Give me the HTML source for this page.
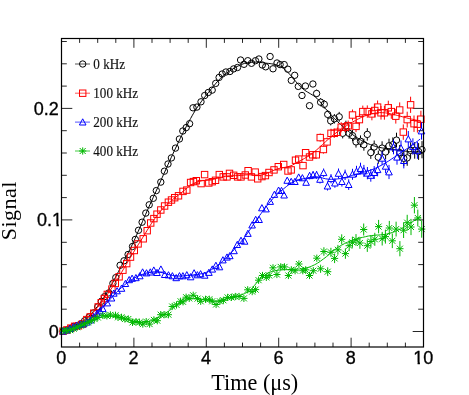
<!DOCTYPE html>
<html><head><meta charset="utf-8"><style>html,body{margin:0;padding:0;background:#fff;width:469px;height:395px;overflow:hidden}svg{display:block}</style></head>
<body><svg width="469" height="395" viewBox="0 0 469 395">
<defs><clipPath id="c10"><rect x="0" y="0" width="469" height="362"/><rect x="417.6" y="361" width="2.3" height="6"/><rect x="423.2" y="361" width="45.8" height="6"/></clipPath><clipPath id="c01"><rect x="0" y="0" width="469" height="223.9"/><rect x="56.5" y="222.9" width="2.3" height="6"/><rect x="0" y="222.9" width="52.1" height="6"/></clipPath></defs>
<rect width="469" height="395" fill="#fff"/>
<path d="M79.6 347.0v-4.4M79.6 38.5v4.4M97.7 347.0v-4.4M97.7 38.5v4.4M115.8 347.0v-4.4M115.8 38.5v4.4M133.9 347.0v-9.3M133.9 38.5v9.3M152 347.0v-4.4M152 38.5v4.4M170.1 347.0v-4.4M170.1 38.5v4.4M188.2 347.0v-4.4M188.2 38.5v4.4M206.3 347.0v-9.3M206.3 38.5v9.3M224.4 347.0v-4.4M224.4 38.5v4.4M242.5 347.0v-4.4M242.5 38.5v4.4M260.6 347.0v-4.4M260.6 38.5v4.4M278.7 347.0v-9.3M278.7 38.5v9.3M296.8 347.0v-4.4M296.8 38.5v4.4M314.9 347.0v-4.4M314.9 38.5v4.4M333 347.0v-4.4M333 38.5v4.4M351.1 347.0v-9.3M351.1 38.5v9.3M369.2 347.0v-4.4M369.2 38.5v4.4M387.3 347.0v-4.4M387.3 38.5v4.4M405.4 347.0v-4.4M405.4 38.5v4.4M61.5 331.5h10.8M423.5 331.5h-10.8M61.5 309.2h5.3M423.5 309.2h-5.3M61.5 286.9h5.3M423.5 286.9h-5.3M61.5 264.6h5.3M423.5 264.6h-5.3M61.5 242.3h5.3M423.5 242.3h-5.3M61.5 219.9h10.8M423.5 219.9h-10.8M61.5 197.6h5.3M423.5 197.6h-5.3M61.5 175.3h5.3M423.5 175.3h-5.3M61.5 153h5.3M423.5 153h-5.3M61.5 130.7h5.3M423.5 130.7h-5.3M61.5 108.4h10.8M423.5 108.4h-10.8M61.5 86.1h5.3M423.5 86.1h-5.3M61.5 63.8h5.3M423.5 63.8h-5.3M61.5 41.5h5.3M423.5 41.5h-5.3" stroke="#000" stroke-width="0.85" fill="none"/>
<g stroke="#000" fill="none" stroke-width="1"><path d="M63.1 331.5 L64.6 330.9 L66.1 330.2 L67.6 329.6 L69.1 328.9 L70.6 328.2 L72.1 327.5 L73.6 326.8 L75.1 326 L76.6 325.2 L78.1 324.4 L79.6 323.5 L81.1 322.5 L82.6 321.4 L84.1 320.3 L85.6 319 L87.1 317.7 L88.6 316.3 L90.1 314.8 L91.6 313.3 L93.1 311.7 L94.6 309.9 L96.1 308.1 L97.6 306.3 L99.1 304.3 L100.6 302.3 L102.1 300.1 L103.6 297.9 L105.1 295.6 L106.6 293.2 L108.1 290.8 L109.6 288.2 L111.1 285.5 L112.6 282.8 L114.1 279.9 L115.6 277.1 L117.1 274.2 L118.6 271.3 L120.1 268.4 L121.6 265.5 L123.1 262.6 L124.6 259.7 L126.1 256.8 L127.6 253.9 L129.1 251 L130.6 248 L132.1 244.9 L133.6 241.7 L135.1 238.5 L136.6 235.1 L138.1 231.7 L139.6 228.2 L141.1 224.8 L142.6 221.3 L144.1 217.8 L145.6 214.4 L147.1 211 L148.6 207.6 L150.1 204.3 L151.6 201 L153.1 197.7 L154.6 194.4 L156.1 191.1 L157.6 187.8 L159.1 184.5 L160.6 181.1 L162.1 177.8 L163.6 174.4 L165.1 171.1 L166.6 167.8 L168.1 164.4 L169.6 161.1 L171.1 157.8 L172.6 154.6 L174.1 151.3 L175.6 148.1 L177.1 145 L178.6 141.8 L180.1 138.7 L181.6 135.7 L183.1 132.7 L184.6 129.8 L186.1 126.9 L187.6 124 L189.1 121.2 L190.6 118.5 L192.1 115.8 L193.6 113.2 L195.1 110.8 L196.6 108.4 L198.1 106.1 L199.6 104 L201.1 101.9 L202.6 99.8 L204.1 97.9 L205.6 96 L207.1 94.1 L208.6 92.3 L210.1 90.4 L211.6 88.6 L213.1 86.7 L214.6 84.9 L216.1 83.1 L217.6 81.4 L219.1 79.8 L220.6 78.2 L222.1 76.8 L223.6 75.5 L225.1 74.2 L226.6 73.1 L228.1 72 L229.6 71 L231.1 70.1 L232.6 69.1 L234.1 68.2 L235.6 67.4 L237.1 66.5 L238.6 65.8 L240.1 65.1 L241.6 64.4 L243.1 63.9 L244.6 63.4 L246.1 63 L247.6 62.7 L249.1 62.5 L250.6 62.3 L252.1 62.2 L253.6 62.1 L255.1 62.1 L256.6 62.2 L258.1 62.3 L259.6 62.4 L261.1 62.6 L262.6 62.7 L264.1 62.9 L265.6 63.1 L267.1 63.3 L268.6 63.4 L270.1 63.6 L271.6 63.8 L273.1 64.1 L274.6 64.4 L276.1 64.8 L277.6 65.3 L279.1 65.9 L280.6 66.7 L282.1 67.6 L283.6 68.6 L285.1 69.8 L286.6 71.1 L288.1 72.6 L289.6 74.2 L291.1 75.9 L292.6 77.7 L294.1 79.5 L295.6 81.3 L297.1 83 L298.6 84.7 L300.1 86.3 L301.6 87.7 L303.1 89 L304.6 90.2 L306.1 91.2 L307.6 92.1 L309.1 93 L310.6 93.9 L312.1 94.8 L313.6 95.7 L315.1 96.8 L316.6 98.1 L318.1 99.6 L319.6 101.2 L321.1 103 L322.6 104.9 L324.1 106.8 L325.6 108.7 L327.1 110.5 L328.6 112.3 L330.1 114 L331.6 115.6 L333.1 117.2 L334.6 118.7 L336.1 120.2 L337.6 121.6 L339.1 123.1 L340.6 124.5 L342.1 125.9 L343.6 127.2 L345.1 128.6 L346.6 129.9 L348.1 131.1 L349.6 132.3 L351.1 133.5 L352.6 134.6 L354.1 135.7 L355.6 136.7 L357.1 137.7 L358.6 138.7 L360.1 139.6 L361.6 140.5 L363.1 141.3 L364.6 142.1 L366.1 142.8 L367.6 143.5 L369.1 144.1 L370.6 144.7 L372.1 145.2 L373.6 145.8 L375.1 146.2 L376.6 146.7 L378.1 147.1 L379.6 147.4 L381.1 147.7 L382.6 148 L384.1 148.2 L385.6 148.4 L387.1 148.7 L388.6 148.9 L390.1 149.1 L391.6 149.3 L393.1 149.4 L394.6 149.6 L396.1 149.9 L397.6 150.1 L399.1 150.3 L400.6 150.5 L402.1 150.7 L403.6 150.9 L405.1 151.1 L406.6 151.3 L408.1 151.5 L409.6 151.6 L411.1 151.7 L412.6 151.8 L414.1 151.8 L415.6 151.8 L417.1 151.7 L418.6 151.6 L420.1 151.5 L421.6 151.3"/><path d="M316.6 90.3V89.6M316.6 96.7V97.4"/><path d="M320.6 99V98.1M320.6 105.4V106.3"/><path d="M324.3 101.1V100M324.3 107.5V108.6"/><path d="M327.7 111.2V110M327.7 117.6V118.8"/><path d="M330.7 117.7V116.4M330.7 124.1V125.4"/><path d="M334.4 115.6V114.1M334.4 122V123.5"/><path d="M339.2 113.6V111.9M339.2 120V121.8"/><path d="M342.7 130.1V128.2M342.7 136.5V138.4"/><path d="M345.9 122.7V120.7M345.9 129.1V131.1"/><path d="M349.1 130.1V127.9M349.1 136.5V138.7"/><path d="M352.5 132.4V130.1M352.5 138.8V141.1"/><path d="M356 138.7V136.2M356 145.1V147.6"/><path d="M360.5 138.1V135.4M360.5 144.5V147.2"/><path d="M363.9 141.5V138.7M363.9 147.9V150.7"/><path d="M367.3 131.2V128.2M367.3 137.6V140.6"/><path d="M370.8 149.4V146.3M370.8 155.8V158.9"/><path d="M374.2 143.8V140.5M374.2 150.2V153.5"/><path d="M378.3 154V150.6M378.3 160.4V163.8"/><path d="M382.1 144.9V141.3M382.1 151.3V154.9"/><path d="M385.6 148.8V145M385.6 155.2V159"/><path d="M389 142.6V138.7M389 149V152.9"/><path d="M392.8 141.5V137.4M392.8 147.9V152"/><path d="M396.5 136.9V132.7M396.5 143.3V147.5"/><path d="M399.7 149.4V145M399.7 155.8V160.2"/><path d="M403.8 155.1V150.5M403.8 161.5V166.1"/><path d="M407.2 154.7V150M407.2 161.1V165.8"/><path d="M410.6 147.2V142.3M410.6 153.6V158.5"/><path d="M414.7 147.2V142.1M414.7 153.6V158.7"/><path d="M418.6 148.3V143.1M418.6 154.7V159.9"/><path d="M422 146.5V141.1M422 152.9V158.3"/><circle cx="63.1" cy="331.3" r="3.2"/><circle cx="66.7" cy="330.2" r="3.2"/><circle cx="70.3" cy="328.6" r="3.2"/><circle cx="73.8" cy="326.4" r="3.2"/><circle cx="77.4" cy="325.5" r="3.2"/><circle cx="81" cy="323.9" r="3.2"/><circle cx="84.6" cy="320.8" r="3.2"/><circle cx="89.1" cy="317" r="3.2"/><circle cx="93.7" cy="312.9" r="3.2"/><circle cx="97.7" cy="306.9" r="3.2"/><circle cx="101.4" cy="301.3" r="3.2"/><circle cx="104.5" cy="296.7" r="3.2"/><circle cx="108.8" cy="292.9" r="3.2"/><circle cx="112.9" cy="283.4" r="3.2"/><circle cx="115.8" cy="277.6" r="3.2"/><circle cx="120.1" cy="265.3" r="3.2"/><circle cx="124" cy="260.8" r="3.2"/><circle cx="128.1" cy="254.5" r="3.2"/><circle cx="132.5" cy="246.5" r="3.2"/><circle cx="135.3" cy="239.4" r="3.2"/><circle cx="138.5" cy="230.3" r="3.2"/><circle cx="142.1" cy="222.2" r="3.2"/><circle cx="145.8" cy="213.1" r="3.2"/><circle cx="149.2" cy="204.8" r="3.2"/><circle cx="153.3" cy="198.3" r="3.2"/><circle cx="156.3" cy="190.6" r="3.2"/><circle cx="160.8" cy="182.1" r="3.2"/><circle cx="164.4" cy="171.2" r="3.2"/><circle cx="168" cy="164" r="3.2"/><circle cx="171.4" cy="157.9" r="3.2"/><circle cx="175.5" cy="148.1" r="3.2"/><circle cx="179.4" cy="139" r="3.2"/><circle cx="182.8" cy="131" r="3.2"/><circle cx="186.2" cy="127.6" r="3.2"/><circle cx="189.6" cy="123.7" r="3.2"/><circle cx="193" cy="107.8" r="3.2"/><circle cx="196.9" cy="107.1" r="3.2"/><circle cx="201" cy="101.8" r="3.2"/><circle cx="204.7" cy="95.5" r="3.2"/><circle cx="208.3" cy="92.5" r="3.2"/><circle cx="212.2" cy="90.1" r="3.2"/><circle cx="215.7" cy="83.4" r="3.2"/><circle cx="219.1" cy="77.4" r="3.2"/><circle cx="222.2" cy="74" r="3.2"/><circle cx="225.9" cy="72" r="3.2"/><circle cx="229.9" cy="71.5" r="3.2"/><circle cx="233.6" cy="68.9" r="3.2"/><circle cx="237.5" cy="67.5" r="3.2"/><circle cx="240.6" cy="60" r="3.2"/><circle cx="244" cy="64.3" r="3.2"/><circle cx="247.8" cy="60.7" r="3.2"/><circle cx="251.5" cy="63.3" r="3.2"/><circle cx="255.5" cy="60.7" r="3.2"/><circle cx="258.9" cy="59" r="3.2"/><circle cx="262.3" cy="65" r="3.2"/><circle cx="265.7" cy="66.8" r="3.2"/><circle cx="270.1" cy="56.5" r="3.2"/><circle cx="273" cy="68.8" r="3.2"/><circle cx="277" cy="63" r="3.2"/><circle cx="280.1" cy="64.6" r="3.2"/><circle cx="284.2" cy="64.6" r="3.2"/><circle cx="287.8" cy="69.2" r="3.2"/><circle cx="291.3" cy="80.4" r="3.2"/><circle cx="294.7" cy="75.3" r="3.2"/><circle cx="298.3" cy="86.4" r="3.2"/><circle cx="302" cy="95.5" r="3.2"/><circle cx="305.4" cy="86" r="3.2"/><circle cx="309.5" cy="105.7" r="3.2"/><circle cx="312.9" cy="84" r="3.2"/><circle cx="316.6" cy="93.5" r="3.2"/><circle cx="320.6" cy="102.2" r="3.2"/><circle cx="324.3" cy="104.3" r="3.2"/><circle cx="327.7" cy="114.4" r="3.2"/><circle cx="330.7" cy="120.9" r="3.2"/><circle cx="334.4" cy="118.8" r="3.2"/><circle cx="339.2" cy="116.8" r="3.2"/><circle cx="342.7" cy="133.3" r="3.2"/><circle cx="345.9" cy="125.9" r="3.2"/><circle cx="349.1" cy="133.3" r="3.2"/><circle cx="352.5" cy="135.6" r="3.2"/><circle cx="356" cy="141.9" r="3.2"/><circle cx="360.5" cy="141.3" r="3.2"/><circle cx="363.9" cy="144.7" r="3.2"/><circle cx="367.3" cy="134.4" r="3.2"/><circle cx="370.8" cy="152.6" r="3.2"/><circle cx="374.2" cy="147" r="3.2"/><circle cx="378.3" cy="157.2" r="3.2"/><circle cx="382.1" cy="148.1" r="3.2"/><circle cx="385.6" cy="152" r="3.2"/><circle cx="389" cy="145.8" r="3.2"/><circle cx="392.8" cy="144.7" r="3.2"/><circle cx="396.5" cy="140.1" r="3.2"/><circle cx="399.7" cy="152.6" r="3.2"/><circle cx="403.8" cy="158.3" r="3.2"/><circle cx="407.2" cy="157.9" r="3.2"/><circle cx="410.6" cy="150.4" r="3.2"/><circle cx="414.7" cy="150.4" r="3.2"/><circle cx="418.6" cy="151.5" r="3.2"/><circle cx="422" cy="149.7" r="3.2"/></g><g stroke="#f00" fill="none" stroke-width="1"><path d="M63.1 331.3 L64.6 330.7 L66.1 330.1 L67.6 329.5 L69.1 328.9 L70.6 328.3 L72.1 327.7 L73.6 327 L75.1 326.4 L76.6 325.7 L78.1 324.9 L79.6 324.1 L81.1 323.2 L82.6 322.2 L84.1 321.1 L85.6 320 L87.1 318.7 L88.6 317.3 L90.1 315.9 L91.6 314.3 L93.1 312.7 L94.6 310.9 L96.1 309.2 L97.6 307.3 L99.1 305.4 L100.6 303.5 L102.1 301.5 L103.6 299.5 L105.1 297.4 L106.6 295.4 L108.1 293.3 L109.6 291.1 L111.1 289 L112.6 286.7 L114.1 284.5 L115.6 282.1 L117.1 279.7 L118.6 277.3 L120.1 274.8 L121.6 272.3 L123.1 269.8 L124.6 267.3 L126.1 264.7 L127.6 262.2 L129.1 259.6 L130.6 257.1 L132.1 254.6 L133.6 252.2 L135.1 249.7 L136.6 247.3 L138.1 244.9 L139.6 242.5 L141.1 240.2 L142.6 237.7 L144.1 235.3 L145.6 232.9 L147.1 230.4 L148.6 228 L150.1 225.6 L151.6 223.2 L153.1 220.9 L154.6 218.8 L156.1 216.7 L157.6 214.7 L159.1 212.9 L160.6 211.1 L162.1 209.4 L163.6 207.8 L165.1 206.3 L166.6 204.8 L168.1 203.4 L169.6 202.1 L171.1 200.8 L172.6 199.6 L174.1 198.4 L175.6 197.3 L177.1 196.1 L178.6 194.9 L180.1 193.7 L181.6 192.5 L183.1 191.3 L184.6 190.1 L186.1 188.8 L187.6 187.6 L189.1 186.5 L190.6 185.4 L192.1 184.4 L193.6 183.5 L195.1 182.8 L196.6 182.2 L198.1 181.7 L199.6 181.3 L201.1 181 L202.6 180.7 L204.1 180.5 L205.6 180.4 L207.1 180.2 L208.6 180.1 L210.1 179.9 L211.6 179.7 L213.1 179.4 L214.6 179.1 L216.1 178.7 L217.6 178.2 L219.1 177.8 L220.6 177.4 L222.1 177 L223.6 176.6 L225.1 176.3 L226.6 176.1 L228.1 175.9 L229.6 175.8 L231.1 175.7 L232.6 175.7 L234.1 175.7 L235.6 175.6 L237.1 175.6 L238.6 175.5 L240.1 175.4 L241.6 175.3 L243.1 175.2 L244.6 175 L246.1 174.9 L247.6 174.8 L249.1 174.8 L250.6 174.9 L252.1 174.9 L253.6 175 L255.1 175.2 L256.6 175.2 L258.1 175.3 L259.6 175.2 L261.1 175.1 L262.6 174.8 L264.1 174.4 L265.6 173.9 L267.1 173.3 L268.6 172.7 L270.1 172 L271.6 171.3 L273.1 170.6 L274.6 170 L276.1 169.4 L277.6 168.9 L279.1 168.5 L280.6 168.1 L282.1 167.8 L283.6 167.5 L285.1 167.3 L286.6 167 L288.1 166.7 L289.6 166.2 L291.1 165.7 L292.6 165 L294.1 164.2 L295.6 163.4 L297.1 162.5 L298.6 161.7 L300.1 160.8 L301.6 160 L303.1 159.2 L304.6 158.4 L306.1 157.5 L307.6 156.6 L309.1 155.7 L310.6 154.7 L312.1 153.6 L313.6 152.4 L315.1 151.2 L316.6 149.9 L318.1 148.6 L319.6 147.2 L321.1 145.8 L322.6 144.5 L324.1 143.1 L325.6 141.7 L327.1 140.3 L328.6 139 L330.1 137.7 L331.6 136.4 L333.1 135.2 L334.6 134 L336.1 132.8 L337.6 131.7 L339.1 130.6 L340.6 129.6 L342.1 128.6 L343.6 127.6 L345.1 126.6 L346.6 125.6 L348.1 124.7 L349.6 123.8 L351.1 122.9 L352.6 122 L354.1 121.2 L355.6 120.3 L357.1 119.5 L358.6 118.8 L360.1 118 L361.6 117.3 L363.1 116.7 L364.6 116.1 L366.1 115.5 L367.6 115 L369.1 114.5 L370.6 114.1 L372.1 113.7 L373.6 113.4 L375.1 113.1 L376.6 112.9 L378.1 112.7 L379.6 112.6 L381.1 112.6 L382.6 112.7 L384.1 112.8 L385.6 112.9 L387.1 113.1 L388.6 113.4 L390.1 113.7 L391.6 114 L393.1 114.3 L394.6 114.7 L396.1 115.1 L397.6 115.5 L399.1 115.9 L400.6 116.3 L402.1 116.7 L403.6 117.1 L405.1 117.5 L406.6 117.9 L408.1 118.3 L409.6 118.6 L411.1 119 L412.6 119.3 L414.1 119.6 L415.6 120 L417.1 120.3 L418.6 120.6 L420.1 120.9"/><path d="M316.3 151.6V150.9M316.3 158V158.7"/><path d="M320.2 134.4V133.5M320.2 140.8V141.7"/><path d="M323.4 146.3V145.3M323.4 152.7V153.7"/><path d="M327.1 138.7V137.5M327.1 145.1V146.3"/><path d="M331 130.1V128.7M331 136.5V137.9"/><path d="M334.2 130.1V128.6M334.2 136.5V138"/><path d="M337.4 129.1V127.5M337.4 135.5V137.1"/><path d="M341.2 124V122.2M341.2 130.4V132.3"/><path d="M345.3 124V122M345.3 130.4V132.4"/><path d="M348.2 122.6V120.5M348.2 129V131.1"/><path d="M352.5 111.8V109.5M352.5 118.2V120.5"/><path d="M356 123.2V120.7M356 129.6V132.1"/><path d="M359.4 116.4V113.8M359.4 122.8V125.4"/><path d="M362.8 108.4V105.6M362.8 114.8V117.6"/><path d="M367.3 108.4V105.4M367.3 114.8V117.8"/><path d="M371.9 110.7V107.5M371.9 117.1V120.3"/><path d="M374.8 107.3V104M374.8 113.7V117"/><path d="M377.6 103.9V100.5M377.6 110.3V113.7"/><path d="M381 109.6V106M381 116V119.6"/><path d="M384.4 109.6V105.9M384.4 116V119.7"/><path d="M388.3 104.6V100.7M388.3 111V114.9"/><path d="M391.3 108.4V104.4M391.3 114.8V118.8"/><path d="M395.8 113V108.8M395.8 119.4V123.6"/><path d="M399.7 106.8V102.4M399.7 113.2V117.6"/><path d="M403.3 128.9V124.4M403.3 135.3V139.8"/><path d="M407.2 116.4V111.7M407.2 122.8V127.5"/><path d="M410.6 101.6V96.7M410.6 108V112.9"/><path d="M414 120.5V115.5M414 126.9V131.9"/><path d="M417.4 121V115.8M417.4 127.4V132.6"/><path d="M420.9 116V110.7M420.9 122.4V127.7"/><rect x="59.9" y="328" width="6.4" height="6.4"/><rect x="63.7" y="326.7" width="6.4" height="6.4"/><rect x="67.6" y="324.9" width="6.4" height="6.4"/><rect x="71.4" y="323.1" width="6.4" height="6.4"/><rect x="75.3" y="322.6" width="6.4" height="6.4"/><rect x="79.1" y="320.9" width="6.4" height="6.4"/><rect x="83.6" y="316.4" width="6.4" height="6.4"/><rect x="87" y="313.7" width="6.4" height="6.4"/><rect x="90.5" y="310" width="6.4" height="6.4"/><rect x="95" y="303.7" width="6.4" height="6.4"/><rect x="98" y="299.5" width="6.4" height="6.4"/><rect x="101.1" y="295.4" width="6.4" height="6.4"/><rect x="104.1" y="291.2" width="6.4" height="6.4"/><rect x="108.7" y="285.9" width="6.4" height="6.4"/><rect x="112.1" y="280.2" width="6.4" height="6.4"/><rect x="115.9" y="273.6" width="6.4" height="6.4"/><rect x="119.7" y="267" width="6.4" height="6.4"/><rect x="123.5" y="260.4" width="6.4" height="6.4"/><rect x="127.3" y="253.9" width="6.4" height="6.4"/><rect x="131.1" y="247.3" width="6.4" height="6.4"/><rect x="134.9" y="240.7" width="6.4" height="6.4"/><rect x="140" y="235.6" width="6.4" height="6.4"/><rect x="144" y="227.5" width="6.4" height="6.4"/><rect x="147.5" y="219.8" width="6.4" height="6.4"/><rect x="150.7" y="215.4" width="6.4" height="6.4"/><rect x="153.8" y="211" width="6.4" height="6.4"/><rect x="157.6" y="206.8" width="6.4" height="6.4"/><rect x="161.4" y="202.8" width="6.4" height="6.4"/><rect x="165.2" y="199" width="6.4" height="6.4"/><rect x="168.3" y="196.8" width="6.4" height="6.4"/><rect x="171.5" y="194.5" width="6.4" height="6.4"/><rect x="175.3" y="192.6" width="6.4" height="6.4"/><rect x="179.8" y="188.2" width="6.4" height="6.4"/><rect x="183.6" y="186.9" width="6.4" height="6.4"/><rect x="187.4" y="179.3" width="6.4" height="6.4"/><rect x="190.2" y="178.4" width="6.4" height="6.4"/><rect x="193.1" y="177.5" width="6.4" height="6.4"/><rect x="197.9" y="180.4" width="6.4" height="6.4"/><rect x="201.4" y="171.4" width="6.4" height="6.4"/><rect x="205.6" y="179.8" width="6.4" height="6.4"/><rect x="209" y="178.5" width="6.4" height="6.4"/><rect x="212.3" y="177.1" width="6.4" height="6.4"/><rect x="216.1" y="171.4" width="6.4" height="6.4"/><rect x="220" y="173.7" width="6.4" height="6.4"/><rect x="223.8" y="173.7" width="6.4" height="6.4"/><rect x="226.3" y="170.2" width="6.4" height="6.4"/><rect x="230.5" y="172.1" width="6.4" height="6.4"/><rect x="234.4" y="173.7" width="6.4" height="6.4"/><rect x="237.8" y="173.7" width="6.4" height="6.4"/><rect x="242.1" y="171.8" width="6.4" height="6.4"/><rect x="244.9" y="167.5" width="6.4" height="6.4"/><rect x="248.2" y="173.7" width="6.4" height="6.4"/><rect x="252" y="168.9" width="6.4" height="6.4"/><rect x="254.5" y="175.6" width="6.4" height="6.4"/><rect x="258.7" y="173.4" width="6.4" height="6.4"/><rect x="262.2" y="172.4" width="6.4" height="6.4"/><rect x="265.8" y="169.3" width="6.4" height="6.4"/><rect x="270.8" y="166.7" width="6.4" height="6.4"/><rect x="275.1" y="163.5" width="6.4" height="6.4"/><rect x="280.5" y="161.3" width="6.4" height="6.4"/><rect x="284.8" y="167.8" width="6.4" height="6.4"/><rect x="288" y="166.7" width="6.4" height="6.4"/><rect x="292.3" y="157" width="6.4" height="6.4"/><rect x="295.5" y="155.9" width="6.4" height="6.4"/><rect x="299.8" y="162.4" width="6.4" height="6.4"/><rect x="302.4" y="149.5" width="6.4" height="6.4"/><rect x="306.3" y="153.8" width="6.4" height="6.4"/><rect x="309.5" y="151.6" width="6.4" height="6.4"/><rect x="313.1" y="151.6" width="6.4" height="6.4"/><rect x="317" y="134.4" width="6.4" height="6.4"/><rect x="320.2" y="146.3" width="6.4" height="6.4"/><rect x="323.9" y="138.7" width="6.4" height="6.4"/><rect x="327.8" y="130.1" width="6.4" height="6.4"/><rect x="331" y="130.1" width="6.4" height="6.4"/><rect x="334.2" y="129.1" width="6.4" height="6.4"/><rect x="338" y="124" width="6.4" height="6.4"/><rect x="342.1" y="124" width="6.4" height="6.4"/><rect x="345" y="122.6" width="6.4" height="6.4"/><rect x="349.3" y="111.8" width="6.4" height="6.4"/><rect x="352.8" y="123.2" width="6.4" height="6.4"/><rect x="356.2" y="116.4" width="6.4" height="6.4"/><rect x="359.6" y="108.4" width="6.4" height="6.4"/><rect x="364.1" y="108.4" width="6.4" height="6.4"/><rect x="368.7" y="110.7" width="6.4" height="6.4"/><rect x="371.6" y="107.3" width="6.4" height="6.4"/><rect x="374.4" y="103.9" width="6.4" height="6.4"/><rect x="377.8" y="109.6" width="6.4" height="6.4"/><rect x="381.2" y="109.6" width="6.4" height="6.4"/><rect x="385.1" y="104.6" width="6.4" height="6.4"/><rect x="388.1" y="108.4" width="6.4" height="6.4"/><rect x="392.6" y="113" width="6.4" height="6.4"/><rect x="396.5" y="106.8" width="6.4" height="6.4"/><rect x="400.1" y="128.9" width="6.4" height="6.4"/><rect x="404" y="116.4" width="6.4" height="6.4"/><rect x="407.4" y="101.6" width="6.4" height="6.4"/><rect x="410.8" y="120.5" width="6.4" height="6.4"/><rect x="414.2" y="121" width="6.4" height="6.4"/><rect x="417.7" y="116" width="6.4" height="6.4"/></g><g stroke="#00f" fill="none" stroke-width="1"><path d="M63.1 331.3 L64.6 330.7 L66.1 330.1 L67.6 329.5 L69.1 328.9 L70.6 328.3 L72.1 327.7 L73.6 327.1 L75.1 326.5 L76.6 325.9 L78.1 325.3 L79.6 324.7 L81.1 324.1 L82.6 323.4 L84.1 322.7 L85.6 321.9 L87.1 321 L88.6 320.1 L90.1 319.1 L91.6 318 L93.1 316.8 L94.6 315.5 L96.1 314.2 L97.6 312.8 L99.1 311.4 L100.6 309.9 L102.1 308.3 L103.6 306.7 L105.1 305 L106.6 303.3 L108.1 301.6 L109.6 299.9 L111.1 298.2 L112.6 296.5 L114.1 294.8 L115.6 293.2 L117.1 291.7 L118.6 290.3 L120.1 288.9 L121.6 287.5 L123.1 286.2 L124.6 284.9 L126.1 283.7 L127.6 282.5 L129.1 281.4 L130.6 280.4 L132.1 279.4 L133.6 278.5 L135.1 277.7 L136.6 276.9 L138.1 276.2 L139.6 275.5 L141.1 274.9 L142.6 274.3 L144.1 273.8 L145.6 273.3 L147.1 272.9 L148.6 272.6 L150.1 272.3 L151.6 272 L153.1 271.9 L154.6 271.8 L156.1 271.8 L157.6 271.9 L159.1 272.1 L160.6 272.4 L162.1 272.7 L163.6 273.1 L165.1 273.6 L166.6 274 L168.1 274.5 L169.6 274.9 L171.1 275.2 L172.6 275.5 L174.1 275.8 L175.6 275.9 L177.1 276 L178.6 276.1 L180.1 276 L181.6 276 L183.1 275.9 L184.6 275.7 L186.1 275.6 L187.6 275.4 L189.1 275.3 L190.6 275.1 L192.1 275 L193.6 274.8 L195.1 274.6 L196.6 274.5 L198.1 274.3 L199.6 274.1 L201.1 273.8 L202.6 273.5 L204.1 273.1 L205.6 272.6 L207.1 272 L208.6 271.3 L210.1 270.5 L211.6 269.6 L213.1 268.6 L214.6 267.6 L216.1 266.5 L217.6 265.4 L219.1 264.2 L220.6 263 L222.1 261.7 L223.6 260.4 L225.1 259 L226.6 257.6 L228.1 256.1 L229.6 254.5 L231.1 252.9 L232.6 251.3 L234.1 249.6 L235.6 248 L237.1 246.2 L238.6 244.5 L240.1 242.8 L241.6 241 L243.1 239.1 L244.6 237.2 L246.1 235.2 L247.6 233.1 L249.1 230.9 L250.6 228.7 L252.1 226.5 L253.6 224.2 L255.1 222 L256.6 219.8 L258.1 217.6 L259.6 215.5 L261.1 213.5 L262.6 211.4 L264.1 209.5 L265.6 207.5 L267.1 205.6 L268.6 203.7 L270.1 201.9 L271.6 200.1 L273.1 198.4 L274.6 196.8 L276.1 195.3 L277.6 193.9 L279.1 192.5 L280.6 191.2 L282.1 190 L283.6 188.8 L285.1 187.6 L286.6 186.4 L288.1 185.2 L289.6 184.1 L291.1 183.1 L292.6 182.3 L294.1 181.5 L295.6 180.8 L297.1 180.3 L298.6 179.8 L300.1 179.4 L301.6 179.1 L303.1 178.8 L304.6 178.5 L306.1 178.2 L307.6 177.8 L309.1 177.5 L310.6 177.2 L312.1 177 L313.6 176.8 L315.1 176.8 L316.6 176.8 L318.1 177 L319.6 177.2 L321.1 177.6 L322.6 178 L324.1 178.4 L325.6 178.8 L327.1 179 L328.6 179.2 L330.1 179.3 L331.6 179.3 L333.1 179.3 L334.6 179.2 L336.1 179.1 L337.6 178.9 L339.1 178.7 L340.6 178.5 L342.1 178.2 L343.6 177.9 L345.1 177.5 L346.6 177.1 L348.1 176.7 L349.6 176.2 L351.1 175.8 L352.6 175.3 L354.1 174.9 L355.6 174.4 L357.1 174 L358.6 173.6 L360.1 173.3 L361.6 172.9 L363.1 172.5 L364.6 172 L366.1 171.6 L367.6 171.1 L369.1 170.6 L370.6 170.1 L372.1 169.6 L373.6 169 L375.1 168.4 L376.6 167.7 L378.1 167 L379.6 166.2 L381.1 165.4 L382.6 164.6 L384.1 163.7 L385.6 162.8 L387.1 161.9 L388.6 161 L390.1 160 L391.6 159 L393.1 158 L394.6 157 L396.1 156 L397.6 155 L399.1 153.9 L400.6 152.9 L402.1 151.9 L403.6 150.9 L405.1 149.9 L406.6 148.9 L408.1 147.9 L409.6 146.8 L411.1 145.8 L412.6 144.8 L414.1 143.7 L415.6 142.6 L417.1 141.5 L418.6 140.3 L420.1 139.1"/><path d="M309.6 172.7V172.1M309.6 178.7V179.3"/><path d="M313.1 171.9V171.1M313.1 177.9V178.7"/><path d="M316.6 171.9V171M316.6 177.9V178.8"/><path d="M320 176.4V175.3M320 182.4V183.5"/><path d="M323.6 169.7V168.5M323.6 175.7V176.9"/><path d="M327.5 183.1V181.7M327.5 189.1V190.5"/><path d="M331 175.7V174.1M331 181.7V183.3"/><path d="M334.9 180.1V178.4M334.9 186.1V187.8"/><path d="M338.5 170.4V168.5M338.5 176.4V178.3"/><path d="M341.9 178.6V176.6M341.9 184.6V186.6"/><path d="M345.1 171.8V169.6M345.1 177.8V180"/><path d="M348.7 181.6V179.3M348.7 187.6V189.9"/><path d="M352.5 171.3V168.8M352.5 177.3V179.8"/><path d="M356.5 168.4V165.8M356.5 174.4V177.1"/><path d="M360.5 165.6V162.7M360.5 171.6V174.5"/><path d="M363.9 167.9V164.9M363.9 173.9V176.9"/><path d="M367.4 170.2V167M367.4 176.2V179.3"/><path d="M370.8 172.4V169.1M370.8 178.4V181.7"/><path d="M374.2 169.6V166.1M374.2 175.6V179"/><path d="M377.6 166.7V163.1M377.6 172.7V176.3"/><path d="M382.1 155.3V151.5M382.1 161.3V165.1"/><path d="M385.6 163.3V159.3M385.6 169.3V173.3"/><path d="M389 169V164.9M389 175V179.1"/><path d="M393.5 144V139.7M393.5 150V154.3"/><path d="M397 154.2V149.7M397 160.2V164.7"/><path d="M401 145.1V140.5M401 151.1V155.7"/><path d="M403.8 157.6V152.8M403.8 163.6V168.4"/><path d="M408.3 136V131M408.3 142V147"/><path d="M412.9 143.5V138.3M412.9 149.5V154.7"/><path d="M417.4 147.4V142M417.4 153.4V158.8"/><path d="M421.5 128V122.4M421.5 134V139.6"/><path d="M63.1 327.9L66.4 334.1H59.8Z"/><path d="M66.5 326.8L69.8 333H63.2Z"/><path d="M69.9 325.4L73.2 331.6H66.6Z"/><path d="M73.3 323.8L76.6 330H70Z"/><path d="M76.7 322.1L80 328.3H73.4Z"/><path d="M80.1 321.2L83.4 327.4H76.8Z"/><path d="M83.5 320.7L86.8 326.9H80.2Z"/><path d="M86.9 318.9L90.2 325.1H83.6Z"/><path d="M90.3 316.8L93.6 323H87Z"/><path d="M93.7 313.4L97 319.6H90.4Z"/><path d="M97.1 310L100.4 316.2H93.8Z"/><path d="M99.9 307.7L103.2 313.9H96.6Z"/><path d="M102.8 305.4L106.1 311.6H99.5Z"/><path d="M107.3 299.7L110.6 305.9H104Z"/><path d="M111.5 294.8L114.8 301H108.2Z"/><path d="M113.8 290L117.1 296.2H110.5Z"/><path d="M117.1 287.6L120.4 293.8H113.8Z"/><path d="M121.5 285.1L124.8 291.3H118.2Z"/><path d="M125.4 280.3L128.7 286.5H122.1Z"/><path d="M129.2 276.5L132.5 282.7H125.9Z"/><path d="M132.1 275.1L135.4 281.3H128.8Z"/><path d="M135.9 274.5L139.2 280.7H132.6Z"/><path d="M139.8 272.6L143.1 278.8H136.5Z"/><path d="M142.6 268.8L145.9 275H139.3Z"/><path d="M146.5 269.7L149.8 275.9H143.2Z"/><path d="M150.3 268.8L153.6 275H147Z"/><path d="M153.8 266.9L157.1 273.1H150.5Z"/><path d="M157 269.3L160.3 275.5H153.7Z"/><path d="M160.9 265.9L164.2 272.1H157.6Z"/><path d="M164.7 271.3L168 277.5H161.4Z"/><path d="M168.5 271.7L171.8 277.9H165.2Z"/><path d="M172.4 272.6L175.7 278.8H169.1Z"/><path d="M176.2 274.5L179.5 280.7H172.9Z"/><path d="M179.5 272.6L182.8 278.8H176.2Z"/><path d="M182.9 272.6L186.2 278.8H179.6Z"/><path d="M186.8 271.6L190.1 277.8H183.5Z"/><path d="M190.6 273.6L193.9 279.8H187.3Z"/><path d="M194.1 269.7L197.4 275.9H190.8Z"/><path d="M197.4 271.6L200.7 277.8H194.1Z"/><path d="M200.6 270.6L203.9 276.8H197.3Z"/><path d="M204.7 272L208 278.2H201.4Z"/><path d="M208.9 269.2L212.2 275.4H205.6Z"/><path d="M212.3 265.9L215.6 272.1H209Z"/><path d="M215.9 262.2L219.2 268.4H212.6Z"/><path d="M219.5 263.6L222.8 269.8H216.2Z"/><path d="M222.9 256.7L226.2 262.9H219.6Z"/><path d="M227 253.9L230.3 260.1H223.7Z"/><path d="M229.8 252.5L233.1 258.7H226.5Z"/><path d="M234 247.5L237.3 253.7H230.7Z"/><path d="M237.3 241.3L240.6 247.5H234Z"/><path d="M241 237.2L244.3 243.4H237.7Z"/><path d="M244.6 238L247.9 244.2H241.3Z"/><path d="M247.9 230.2L251.2 236.4H244.6Z"/><path d="M252.1 221.8L255.4 228H248.8Z"/><path d="M255.7 216.3L259 222.5H252.4Z"/><path d="M259.1 216.3L262.4 222.5H255.8Z"/><path d="M261.9 204.6L265.2 210.8H258.6Z"/><path d="M266 205.7L269.3 211.9H262.7Z"/><path d="M270.2 198.2L273.5 204.4H266.9Z"/><path d="M274.4 191.2L277.7 197.4H271.1Z"/><path d="M278.6 187L281.9 193.2H275.3Z"/><path d="M281.5 187.3L284.8 193.5H278.2Z"/><path d="M284.1 191.8L287.4 198H280.8Z"/><path d="M287.2 177.1L290.5 183.3H283.9Z"/><path d="M291.2 178.3L294.5 184.5H287.9Z"/><path d="M294.9 178.3L298.2 184.5H291.6Z"/><path d="M298.7 173.9L302 180.1H295.4Z"/><path d="M302.4 174.6L305.7 180.8H299.1Z"/><path d="M306.1 179.1L309.4 185.3H302.8Z"/><path d="M309.6 172.4L312.9 178.6H306.3Z"/><path d="M313.1 171.6L316.4 177.8H309.8Z"/><path d="M316.6 171.6L319.9 177.8H313.3Z"/><path d="M320 176.1L323.3 182.3H316.7Z"/><path d="M323.6 169.4L326.9 175.6H320.3Z"/><path d="M327.5 182.8L330.8 189H324.2Z"/><path d="M331 175.4L334.3 181.6H327.7Z"/><path d="M334.9 179.8L338.2 186H331.6Z"/><path d="M338.5 170.1L341.8 176.3H335.2Z"/><path d="M341.9 178.3L345.2 184.5H338.6Z"/><path d="M345.1 171.5L348.4 177.7H341.8Z"/><path d="M348.7 181.3L352 187.5H345.4Z"/><path d="M352.5 171L355.8 177.2H349.2Z"/><path d="M356.5 168.1L359.8 174.3H353.2Z"/><path d="M360.5 165.3L363.8 171.5H357.2Z"/><path d="M363.9 167.6L367.2 173.8H360.6Z"/><path d="M367.4 169.8L370.7 176.1H364.1Z"/><path d="M370.8 172.1L374.1 178.3H367.5Z"/><path d="M374.2 169.2L377.5 175.5H370.9Z"/><path d="M377.6 166.4L380.9 172.6H374.3Z"/><path d="M382.1 155L385.4 161.2H378.8Z"/><path d="M385.6 163L388.9 169.2H382.3Z"/><path d="M389 168.7L392.3 174.9H385.7Z"/><path d="M393.5 143.7L396.8 149.9H390.2Z"/><path d="M397 153.9L400.3 160.1H393.7Z"/><path d="M401 144.8L404.3 151H397.7Z"/><path d="M403.8 157.3L407.1 163.5H400.5Z"/><path d="M408.3 135.7L411.6 141.9H405Z"/><path d="M412.9 143.2L416.2 149.4H409.6Z"/><path d="M417.4 147.1L420.7 153.3H414.1Z"/><path d="M421.5 127.7L424.8 133.9H418.2Z"/></g><g stroke="#00b800" fill="none" stroke-width="1"><path d="M63.1 331.4 L64.6 331 L66.1 330.7 L67.6 330.3 L69.1 329.8 L70.6 329.4 L72.1 328.8 L73.6 328.3 L75.1 327.8 L76.6 327.2 L78.1 326.6 L79.6 325.9 L81.1 325.3 L82.6 324.7 L84.1 324 L85.6 323.3 L87.1 322.7 L88.6 322 L90.1 321.3 L91.6 320.7 L93.1 320 L94.6 319.5 L96.1 318.9 L97.6 318.4 L99.1 317.9 L100.6 317.5 L102.1 317.2 L103.6 316.9 L105.1 316.6 L106.6 316.5 L108.1 316.3 L109.6 316.3 L111.1 316.3 L112.6 316.4 L114.1 316.5 L115.6 316.7 L117.1 316.9 L118.6 317.2 L120.1 317.5 L121.6 317.9 L123.1 318.3 L124.6 318.7 L126.1 319.1 L127.6 319.5 L129.1 319.9 L130.6 320.3 L132.1 320.7 L133.6 321 L135.1 321.3 L136.6 321.6 L138.1 321.8 L139.6 322 L141.1 322.1 L142.6 322.1 L144.1 322 L145.6 321.9 L147.1 321.7 L148.6 321.4 L150.1 321 L151.6 320.6 L153.1 320 L154.6 319.4 L156.1 318.8 L157.6 318 L159.1 317.3 L160.6 316.4 L162.1 315.5 L163.6 314.6 L165.1 313.6 L166.6 312.5 L168.1 311.5 L169.6 310.4 L171.1 309.3 L172.6 308.2 L174.1 307.1 L175.6 306 L177.1 305 L178.6 304 L180.1 303 L181.6 302.1 L183.1 301.3 L184.6 300.6 L186.1 300 L187.6 299.6 L189.1 299.2 L190.6 299 L192.1 298.9 L193.6 298.8 L195.1 298.8 L196.6 298.9 L198.1 299 L199.6 299.2 L201.1 299.4 L202.6 299.6 L204.1 299.8 L205.6 300 L207.1 300.2 L208.6 300.4 L210.1 300.6 L211.6 300.8 L213.1 300.9 L214.6 300.9 L216.1 300.9 L217.6 300.8 L219.1 300.6 L220.6 300.3 L222.1 300 L223.6 299.7 L225.1 299.3 L226.6 299 L228.1 298.6 L229.6 298.2 L231.1 297.8 L232.6 297.5 L234.1 297.1 L235.6 296.7 L237.1 296.3 L238.6 295.9 L240.1 295.4 L241.6 294.8 L243.1 294.2 L244.6 293.5 L250 291 L251.5 289 L253 287.1 L254.5 285.3 L256 283.6 L257.5 282 L259 280.5 L260.5 279.1 L262 277.6 L263.5 276.2 L265 274.9 L266.5 273.8 L268 272.9 L269.5 272.3 L271 271.8 L272.5 271.4 L274 271 L275.5 270.7 L277 270.4 L278.5 270.2 L280 270 L281.5 269.9 L283 269.8 L284.5 269.7 L286 269.7 L287.5 269.6 L289 269.5 L290.5 269.5 L292 269.4 L293.5 269.3 L295 269.3 L296.5 269.2 L298 269.1 L299.5 269 L301 268.9 L302.5 268.7 L304 268.4 L305.5 268.1 L307 267.8 L308.5 267.4 L310 266.9 L311.5 266.2 L313 265.5 L314.5 264.8 L316 264 L317.5 263.1 L319 262.2 L320.5 261.1 L322 260 L323.5 258.9 L325 257.8 L326.5 256.6 L328 255.4 L329.5 254.1 L331 252.8 L332.5 251.5 L334 250.2 L335.5 249.1 L337 248 L338.5 247 L340 246.1 L341.5 245.2 L343 244.4 L344.5 243.6 L346 242.9 L347.5 242.2 L349 241.6 L350.5 241 L352 240.5 L353.5 239.9 L355 239.4 L356.5 239 L358 238.5 L359.5 238.1 L361 237.7 L362.5 237.4 L364 237 L365.5 236.7 L367 236.3 L368.5 236 L370 235.8 L371.5 235.6 L373 235.4 L374.5 235.3 L376 235.1 L377.5 235 L379 235 L380.5 234.8 L382 234.7 L383.5 234.6 L385 234.4 L386.5 234.1 L388 233.7 L389.5 233.3 L391 232.9 L392.5 232.4 L394 231.9 L395.5 231.3 L397 230.7 L398.5 230 L400 229.3 L401.5 228.5 L403 227.7 L404.5 226.8 L406 226 L407.5 225.1 L409 224.2 L410.5 223.2 L412 222.2 L413.5 221.1 L415 220.2 L416.5 219.3 L418 218.5 L419.5 217.7 L421 217"/><path d="M320.6 265.4V264.7M320.6 272.2V272.9"/><path d="M323.9 248.1V247.3M323.9 254.9V255.7"/><path d="M327.7 268.3V267.3M327.7 275.1V276.1"/><path d="M330.9 248.9V247.8M330.9 255.7V256.8"/><path d="M334.6 255V253.6M334.6 261.8V263.1"/><path d="M337.9 246.4V244.9M337.9 253.2V254.7"/><path d="M341.7 235.9V234.3M341.7 242.7V244.3"/><path d="M345.4 250.2V248.4M345.4 257V258.8"/><path d="M349.2 242.3V240.3M349.2 249.1V251.1"/><path d="M352.4 238.9V236.8M352.4 245.7V247.8"/><path d="M356 236.4V234.1M356 243.2V245.5"/><path d="M359.9 239.6V237.2M359.9 246.4V248.8"/><path d="M363.7 226.1V223.5M363.7 232.9V235.5"/><path d="M367.3 242.3V239.5M367.3 249.1V251.9"/><path d="M370.9 238.1V235.2M370.9 244.9V247.8"/><path d="M374.8 235.9V232.8M374.8 242.7V245.8"/><path d="M378.6 223.2V219.9M378.6 230V233.3"/><path d="M382.2 235.3V231.9M382.2 242.1V245.5"/><path d="M385.4 233.2V229.6M385.4 240V243.6"/><path d="M389.3 224.6V220.9M389.3 231.4V235.1"/><path d="M392.3 237.4V233.5M392.3 244.2V248.1"/><path d="M396.1 225.7V221.7M396.1 232.5V236.5"/><path d="M399.9 245.3V241.1M399.9 252.1V256.3"/><path d="M403.6 226.8V222.4M403.6 233.6V238"/><path d="M407.2 219.3V214.8M407.2 226.1V230.6"/><path d="M411 223.6V218.9M411 230.4V235.1"/><path d="M414.4 201.8V197M414.4 208.6V213.4"/><path d="M417.8 214.6V209.6M417.8 221.4V226.4"/><path d="M421.7 225.7V220.5M421.7 232.5V237.7"/><path d="M63.1 327.4V334.6M59.5 331H66.7M60.1 328L66.1 334M60.1 334L66.1 328"/><path d="M66.6 326.9V334.1M63 330.5H70.2M63.6 327.5L69.6 333.5M63.6 333.5L69.6 327.5"/><path d="M70.2 326.6V333.8M66.6 330.2H73.8M67.2 327.2L73.2 333.2M67.2 333.2L73.2 327.2"/><path d="M73.7 325.1V332.3M70.1 328.7H77.3M70.7 325.7L76.7 331.7M70.7 331.7L76.7 325.7"/><path d="M77.2 323.6V330.8M73.7 327.2H80.8M74.2 324.2L80.2 330.2M74.2 330.2L80.2 324.2"/><path d="M80.8 322V329.2M77.2 325.6H84.4M77.8 322.6L83.8 328.6M77.8 328.6L83.8 322.6"/><path d="M84.3 320.4V327.6M80.7 324H87.9M81.3 321L87.3 327M81.3 327L87.3 321"/><path d="M87.9 318.8V326M84.3 322.4H91.5M84.9 319.4L90.9 325.4M84.9 325.4L90.9 319.4"/><path d="M91.4 317.1V324.3M87.8 320.7H95M88.4 317.7L94.4 323.7M88.4 323.7L94.4 317.7"/><path d="M94.6 315.5V322.7M91 319.1H98.2M91.6 316.1L97.6 322.1M91.6 322.1L97.6 316.1"/><path d="M97.8 313.9V321.1M94.2 317.5H101.3M94.8 314.5L100.8 320.5M94.8 320.5L100.8 314.5"/><path d="M102.8 311.8V319.1M99.2 315.4H106.3M99.8 312.4L105.8 318.4M99.8 318.4L105.8 312.4"/><path d="M106.9 312.3V319.5M103.3 315.9H110.5M103.9 312.9L109.9 318.9M103.9 318.9L109.9 312.9"/><path d="M110.4 311.3V318.5M106.8 314.9H114M107.4 311.9L113.4 317.9M107.4 317.9L113.4 311.9"/><path d="M115.5 311.7V318.9M111.9 315.3H119.1M112.5 312.3L118.5 318.3M112.5 318.3L118.5 312.3"/><path d="M118 313.7V320.9M114.4 317.3H121.6M115 314.3L121 320.3M115 320.3L121 314.3"/><path d="M121.5 313.7V320.9M117.9 317.3H125.1M118.5 314.3L124.5 320.3M118.5 320.3L124.5 314.3"/><path d="M124.9 315.4V322.6M121.3 319H128.5M121.9 316L127.9 322M121.9 322L127.9 316"/><path d="M128.3 315.4V322.6M124.7 319H131.9M125.3 316L131.3 322M125.3 322L131.3 316"/><path d="M132.5 318.8V326M128.9 322.4H136.1M129.5 319.4L135.5 325.4M129.5 325.4L135.5 319.4"/><path d="M136 318V325.2M132.4 321.6H139.6M133 318.6L139 324.6M133 324.6L139 318.6"/><path d="M139.4 318.8V326M135.8 322.4H143M136.4 319.4L142.4 325.4M136.4 325.4L142.4 319.4"/><path d="M142.8 320.5V327.7M139.2 324.1H146.4M139.8 321.1L145.8 327.1M139.8 327.1L145.8 321.1"/><path d="M146.2 318V325.2M142.6 321.6H149.8M143.2 318.6L149.2 324.6M143.2 324.6L149.2 318.6"/><path d="M149.6 320.5V327.7M146 324.1H153.2M146.6 321.1L152.6 327.1M146.6 327.1L152.6 321.1"/><path d="M153.9 316.3V323.5M150.3 319.9H157.5M150.9 316.9L156.9 322.9M150.9 322.9L156.9 316.9"/><path d="M157.3 317.1V324.3M153.7 320.7H160.9M154.3 317.7L160.3 323.7M154.3 323.7L160.3 317.7"/><path d="M160.7 311.1V318.3M157.1 314.7H164.3M157.7 311.7L163.7 317.7M157.7 317.7L163.7 311.7"/><path d="M164.1 311.1V318.3M160.5 314.7H167.7M161.1 311.7L167.1 317.7M161.1 317.7L167.1 311.7"/><path d="M168.4 311.1V318.3M164.8 314.7H172M165.4 311.7L171.4 317.7M165.4 317.7L171.4 311.7"/><path d="M172.2 302.9V310.1M168.6 306.5H175.8M169.2 303.5L175.2 309.5M169.2 309.5L175.2 303.5"/><path d="M176.5 301.3V308.5M172.9 304.9H180.1M173.5 301.9L179.5 307.9M173.5 307.9L179.5 301.9"/><path d="M180.6 297.7V304.9M177 301.3H184.2M177.6 298.3L183.6 304.3M177.6 304.3L183.6 298.3"/><path d="M183 298.2V305.4M179.4 301.8H186.6M180 298.8L186 304.8M180 304.8L186 298.8"/><path d="M186.1 293.6V300.9M182.5 297.2H189.7M183.1 294.2L189.1 300.2M183.1 300.2L189.1 294.2"/><path d="M189.2 294.8V302M185.6 298.4H192.8M186.2 295.4L192.2 301.4M186.2 301.4L192.2 295.4"/><path d="M193.2 291.7V298.9M189.7 295.3H196.8M190.2 292.3L196.2 298.3M190.2 298.3L196.2 292.3"/><path d="M197.6 295V302.2M194 298.6H201.2M194.6 295.6L200.6 301.6M194.6 301.6L200.6 295.6"/><path d="M200.7 297.7V304.9M197.1 301.3H204.3M197.7 298.3L203.7 304.3M197.7 304.3L203.7 298.3"/><path d="M205.5 295.7V302.9M201.9 299.3H209.1M202.5 296.3L208.5 302.3M202.5 302.3L208.5 296.3"/><path d="M209.3 295.7V302.9M205.7 299.3H212.9M206.3 296.3L212.3 302.3M206.3 302.3L212.3 296.3"/><path d="M212.2 297.7V304.9M208.6 301.3H215.8M209.2 298.3L215.2 304.3M209.2 304.3L215.2 298.3"/><path d="M216.1 300.9V308.1M212.5 304.5H219.7M213.1 301.5L219.1 307.5M213.1 307.5L219.1 301.5"/><path d="M219.9 297.7V304.9M216.3 301.3H223.5M216.9 298.3L222.9 304.3M216.9 304.3L222.9 298.3"/><path d="M223.4 296.7V303.9M219.8 300.3H227M220.4 297.3L226.4 303.3M220.4 303.3L226.4 297.3"/><path d="M227.6 293.8V301M224 297.4H231.2M224.6 294.4L230.6 300.4M224.6 300.4L230.6 294.4"/><path d="M231.4 293.8V301M227.8 297.4H235M228.4 294.4L234.4 300.4M228.4 300.4L234.4 294.4"/><path d="M235.3 292.9V300.1M231.7 296.5H238.9M232.3 293.5L238.3 299.5M232.3 299.5L238.3 293.5"/><path d="M239.1 292.9V300.1M235.5 296.5H242.7M236.1 293.5L242.1 299.5M236.1 299.5L242.1 293.5"/><path d="M243.9 294.8V302M240.3 298.4H247.5M240.9 295.4L246.9 301.4M240.9 301.4L246.9 295.4"/><path d="M247.7 286.2V293.4M244.1 289.8H251.3M244.7 286.8L250.7 292.8M244.7 292.8L250.7 286.8"/><path d="M252.2 288V295.2M248.7 291.6H255.8M249.2 288.6L255.2 294.6M249.2 294.6L255.2 288.6"/><path d="M255.6 285.9V293.2M252 289.6H259.2M252.6 286.6L258.6 292.6M252.6 292.6L258.6 286.6"/><path d="M258.6 276.6V283.9M255 280.2H262.2M255.6 277.2L261.6 283.2M255.6 283.2L261.6 277.2"/><path d="M262.5 271.9V279.1M258.9 275.5H266.1M259.5 272.5L265.5 278.5M259.5 278.5L265.5 272.5"/><path d="M266.3 273.8V281M262.7 277.4H269.9M263.3 274.4L269.3 280.4M263.3 280.4L269.3 274.4"/><path d="M269.2 271.9V279.1M265.6 275.5H272.8M266.2 272.5L272.2 278.5M266.2 278.5L272.2 272.5"/><path d="M273 264.2V271.4M269.4 267.8H276.6M270 264.8L276 270.8M270 270.8L276 264.8"/><path d="M276.9 270.9V278.1M273.3 274.5H280.5M273.9 271.5L279.9 277.5M273.9 277.5L279.9 271.5"/><path d="M280.7 263.3V270.5M277.1 266.9H284.3M277.7 263.9L283.7 269.9M277.7 269.9L283.7 263.9"/><path d="M284.5 263.3V270.5M280.9 266.9H288.1M281.5 263.9L287.5 269.9M281.5 269.9L287.5 263.9"/><path d="M288.4 271.9V279.1M284.8 275.5H292M285.4 272.5L291.4 278.5M285.4 278.5L291.4 272.5"/><path d="M291.3 266.2V273.4M287.7 269.8H294.9M288.3 266.8L294.3 272.8M288.3 272.8L294.3 266.8"/><path d="M295.1 267.1V274.3M291.5 270.7H298.7M292.1 267.7L298.1 273.7M292.1 273.7L298.1 267.7"/><path d="M298.9 260.4V267.6M295.3 264H302.5M295.9 261L301.9 267M295.9 267L301.9 261"/><path d="M302.8 267.1V274.3M299.2 270.7H306.4M299.8 267.7L305.8 273.7M299.8 273.7L305.8 267.7"/><path d="M305.7 266.2V273.4M302.1 269.8H309.3M302.7 266.8L308.7 272.8M302.7 272.8L308.7 266.8"/><path d="M309.5 271.9V279.1M305.9 275.5H313.1M306.5 272.5L312.5 278.5M306.5 278.5L312.5 272.5"/><path d="M313.3 267.1V274.3M309.7 270.7H316.9M310.3 267.7L316.3 273.7M310.3 273.7L316.3 267.7"/><path d="M316.8 254.6V261.8M313.2 258.2H320.4M313.8 255.2L319.8 261.2M313.8 261.2L319.8 255.2"/><path d="M320.6 265.2V272.4M317 268.8H324.2M317.6 265.8L323.6 271.8M317.6 271.8L323.6 265.8"/><path d="M323.9 247.9V255.1M320.3 251.5H327.5M320.9 248.5L326.9 254.5M320.9 254.5L326.9 248.5"/><path d="M327.7 268.1V275.3M324.1 271.7H331.3M324.7 268.7L330.7 274.7M324.7 274.7L330.7 268.7"/><path d="M330.9 248.7V255.9M327.2 252.3H334.5M327.9 249.3L333.9 255.3M327.9 255.3L333.9 249.3"/><path d="M334.6 254.8V262M331 258.4H338.2M331.6 255.4L337.6 261.4M331.6 261.4L337.6 255.4"/><path d="M337.9 246.2V253.4M334.3 249.8H341.5M334.9 246.8L340.9 252.8M334.9 252.8L340.9 246.8"/><path d="M341.7 235.7V242.9M338.1 239.3H345.3M338.7 236.3L344.7 242.3M338.7 242.3L344.7 236.3"/><path d="M345.4 250V257.2M341.8 253.6H349M342.4 250.6L348.4 256.6M342.4 256.6L348.4 250.6"/><path d="M349.2 242.1V249.3M345.6 245.7H352.8M346.2 242.7L352.2 248.7M346.2 248.7L352.2 242.7"/><path d="M352.4 238.7V245.9M348.8 242.3H356M349.4 239.3L355.4 245.3M349.4 245.3L355.4 239.3"/><path d="M356 236.2V243.4M352.4 239.8H359.6M353 236.8L359 242.8M353 242.8L359 236.8"/><path d="M359.9 239.4V246.6M356.3 243H363.5M356.9 240L362.9 246M356.9 246L362.9 240"/><path d="M363.7 225.9V233.1M360.1 229.5H367.3M360.7 226.5L366.7 232.5M360.7 232.5L366.7 226.5"/><path d="M367.3 242.1V249.3M363.7 245.7H370.9M364.3 242.7L370.3 248.7M364.3 248.7L370.3 242.7"/><path d="M370.9 237.9V245.1M367.3 241.5H374.5M367.9 238.5L373.9 244.5M367.9 244.5L373.9 238.5"/><path d="M374.8 235.7V242.9M371.2 239.3H378.4M371.8 236.3L377.8 242.3M371.8 242.3L377.8 236.3"/><path d="M378.6 223V230.2M375 226.6H382.2M375.6 223.6L381.6 229.6M375.6 229.6L381.6 223.6"/><path d="M382.2 235.1V242.3M378.6 238.7H385.8M379.2 235.7L385.2 241.7M379.2 241.7L385.2 235.7"/><path d="M385.4 233V240.2M381.8 236.6H389M382.4 233.6L388.4 239.6M382.4 239.6L388.4 233.6"/><path d="M389.3 224.4V231.6M385.7 228H392.9M386.3 225L392.3 231M386.3 231L392.3 225"/><path d="M392.3 237.2V244.4M388.7 240.8H395.9M389.3 237.8L395.3 243.8M389.3 243.8L395.3 237.8"/><path d="M396.1 225.5V232.7M392.5 229.1H399.7M393.1 226.1L399.1 232.1M393.1 232.1L399.1 226.1"/><path d="M399.9 245.1V252.3M396.3 248.7H403.5M396.9 245.7L402.9 251.7M396.9 251.7L402.9 245.7"/><path d="M403.6 226.6V233.8M400 230.2H407.2M400.6 227.2L406.6 233.2M400.6 233.2L406.6 227.2"/><path d="M407.2 219.1V226.3M403.6 222.7H410.8M404.2 219.7L410.2 225.7M404.2 225.7L410.2 219.7"/><path d="M411 223.4V230.6M407.4 227H414.6M408 224L414 230M408 230L414 224"/><path d="M414.4 201.6V208.8M410.8 205.2H418M411.4 202.2L417.4 208.2M411.4 208.2L417.4 202.2"/><path d="M417.8 214.4V221.6M414.2 218H421.4M414.8 215L420.8 221M414.8 221L420.8 215"/><path d="M421.7 225.5V232.7M418.1 229.1H425.3M418.7 226.1L424.7 232.1M418.7 232.1L424.7 226.1"/></g>
<rect x="61.5" y="38.5" width="362.0" height="308.5" fill="none" stroke="#000" stroke-width="1.2"/>
<g font-family="'Liberation Sans', sans-serif" font-size="18" fill="#000" stroke="#000" stroke-width="0.3"><text x="61.2" y="364.4" text-anchor="middle">0</text><text x="133.6" y="364.4" text-anchor="middle">2</text><text x="206" y="364.4" text-anchor="middle">4</text><text x="278.4" y="364.4" text-anchor="middle">6</text><text x="350.8" y="364.4" text-anchor="middle">8</text><text x="423.2" y="364.4" text-anchor="middle" clip-path="url(#c10)">10</text><text x="58.8" y="337.9" text-anchor="end">0</text><text x="62.1" y="226.3" text-anchor="end" clip-path="url(#c01)">0.1</text><text x="58.8" y="114.8" text-anchor="end">0.2</text></g>
<g font-family="'Liberation Serif', serif" font-size="13.7" fill="#111" stroke="#111" stroke-width="0.15"><g stroke="#000" fill="none" stroke-width="1"><path d="M75 64H90" stroke="#555"/><circle cx="82.7" cy="64" r="3.2"/></g><text transform="translate(93.3,68.6) scale(0.96,1)">0 kHz</text><g stroke="#f00" fill="none" stroke-width="1"><path d="M75 93.2H90" stroke="#f55"/><rect x="79.5" y="90" width="6.4" height="6.4"/></g><text transform="translate(93.3,97.8) scale(0.96,1)">100 kHz</text><g stroke="#00f" fill="none" stroke-width="1"><path d="M75 122.1H90" stroke="#55f"/><path d="M82.7 118.8L86 125H79.4Z"/></g><text transform="translate(93.3,126.7) scale(0.96,1)">200 kHz</text><g stroke="#00b800" fill="none" stroke-width="1"><path d="M75 151H90" stroke="#4c4"/><path d="M82.7 147.4V154.6M79.1 151H86.3M79.7 148L85.7 154M79.7 154L85.7 148"/></g><text transform="translate(93.3,155.6) scale(0.96,1)">400 kHz</text></g>
<text x="254.8" y="390" text-anchor="middle" font-family="'Liberation Serif', serif" font-size="22.2" fill="#000">Time (μs)</text>
<text transform="translate(15.9,210.7) rotate(-90)" text-anchor="middle" font-family="'Liberation Serif', serif" font-size="22" letter-spacing="0.45" fill="#000">Signal</text>
</svg></body></html>
